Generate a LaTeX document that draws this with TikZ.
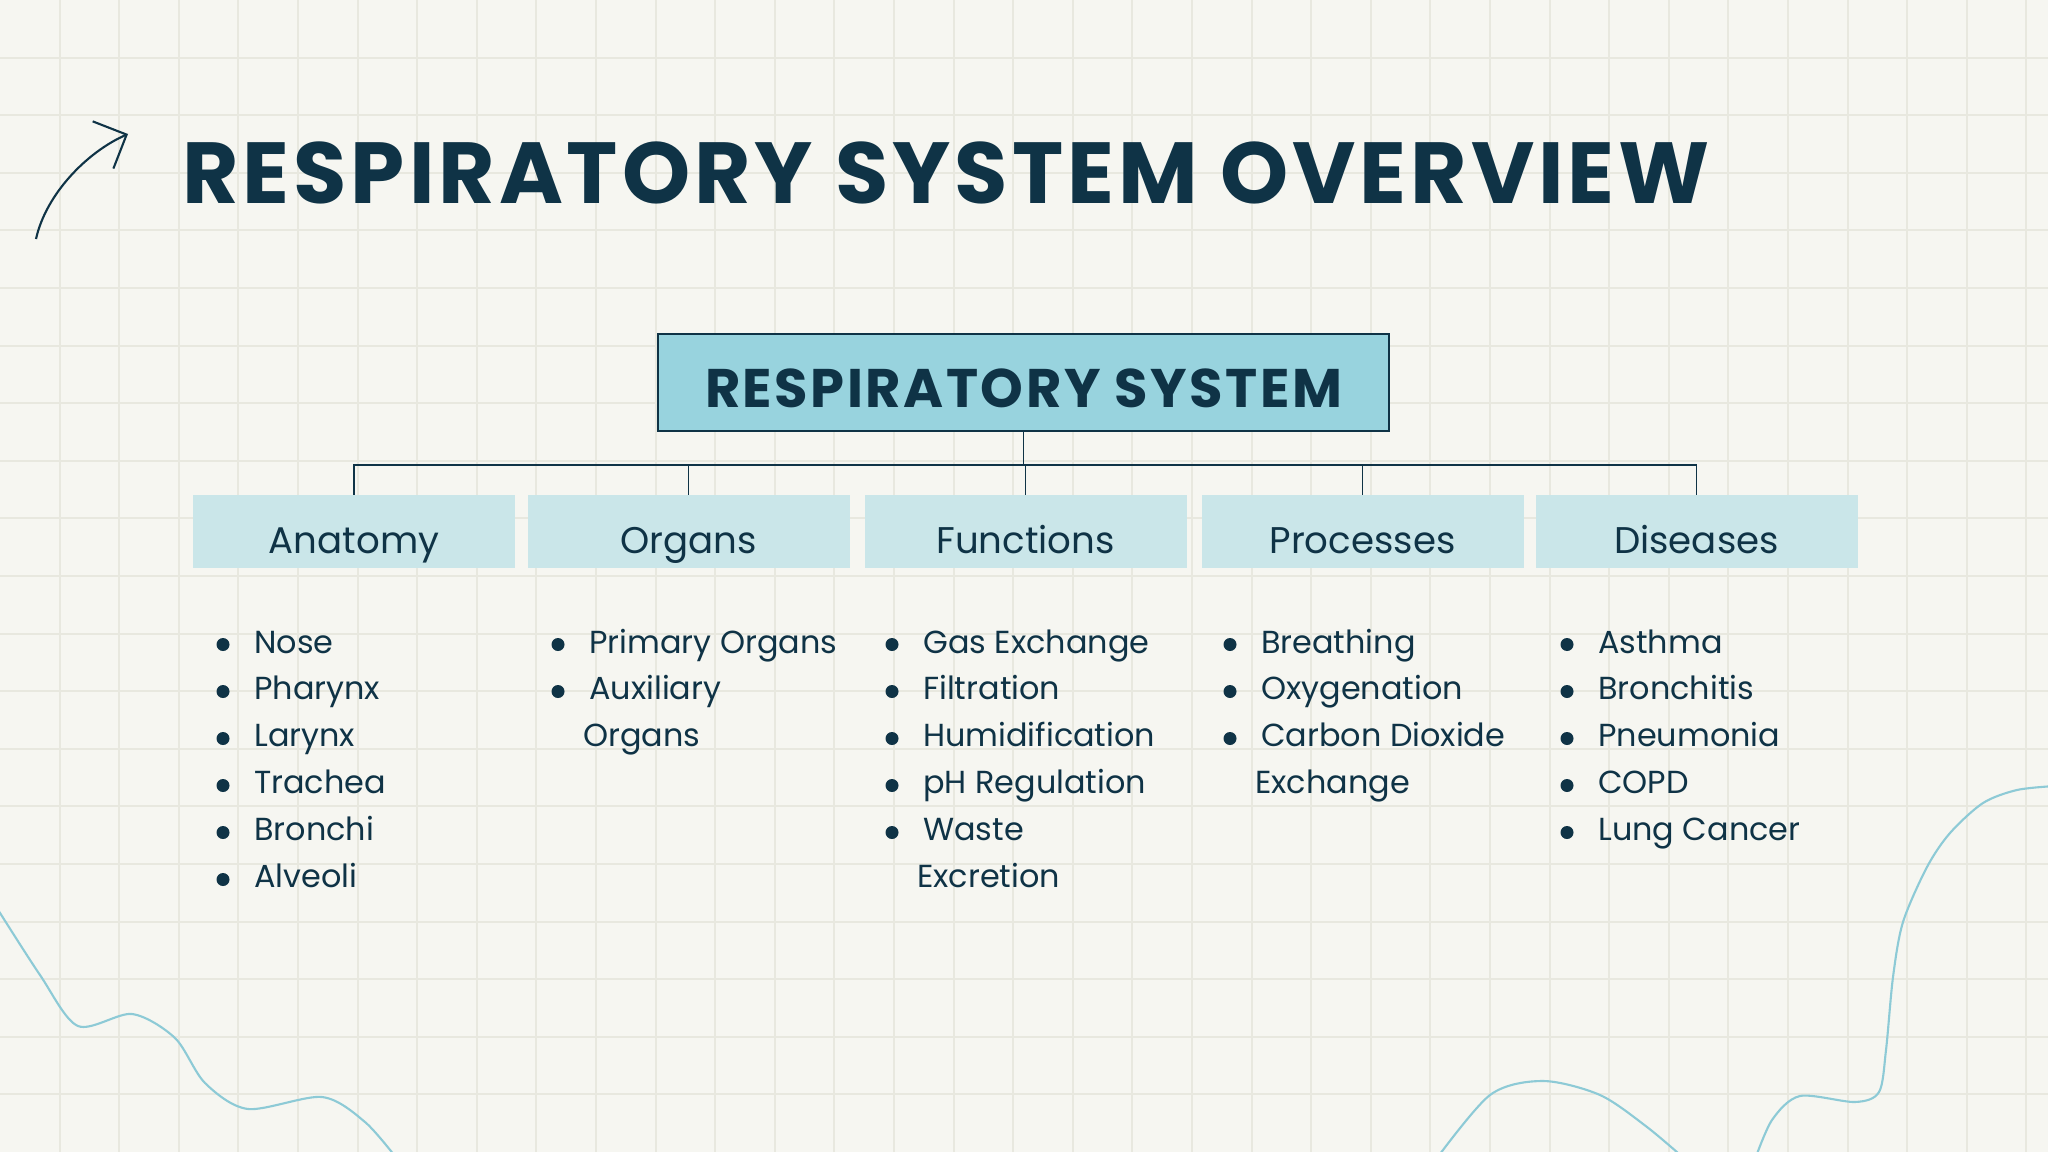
\documentclass[tikz,border=0pt]{standalone}
\usepackage{fontspec}
\setmainfont{Poppins}
\newfontfamily\spacedfont{Poppins}[LetterSpace=4.6]
\usetikzlibrary{arrows.meta,positioning}

\definecolor{ink}{HTML}{0F3346}
\definecolor{paper}{HTML}{F6F6F1}
\definecolor{gridc}{HTML}{E8E8DF}
\definecolor{rootfill}{HTML}{98D3DE}
\definecolor{headfill}{HTML}{CAE6E9}
\definecolor{wavec}{HTML}{8DCAD6}

\newlength\px
\setlength\px{0.03cm}
\newcommand{\bulletlist}[1]{\begin{tabular}[t]{@{}l@{}}#1\end{tabular}}

\begin{document}
\begin{tikzpicture}[x=0.03cm,y=-0.03cm,
  gridline/.style={draw=gridc,line width=1.8pt},
  wave/.style={draw=wavec,line width=1.8pt},
  title/.style={anchor=base west,inner sep=0pt,text=ink,font=\spacedfont\fontsize{74}{80}\selectfont\bfseries},
  rootbox/.style={draw=ink,line width=1.5pt,fill=rootfill,minimum width=731\px,minimum height=97\px,inner sep=0pt,
    text=ink,font=\spacedfont\fontsize{46.4}{50}\selectfont\bfseries,text height=49\px,text depth=0pt},
  head/.style={fill=headfill,minimum width=322\px,minimum height=73\px,inner sep=0pt,
    text=ink,font=\fontsize{31.7}{36}\selectfont,text height=43\px,text depth=0pt},
  items/.style={anchor=base west,inner sep=0pt,text=ink,font=\fontsize{27.2}{40}\selectfont},
  dot/.style={fill=ink},
  conn/.style={draw=ink,line width=1.3pt}
]
\useasboundingbox (0,0) rectangle (2048,1152);
\clip (0,0) rectangle (2048,1152);
\fill[paper] (0,0) rectangle (2048,1152);

% graph paper
\foreach \i in {1,...,34} \draw[gridline] (\i*59.6,0) -- (\i*59.6,1152);
\foreach \j in {1,...,19} \draw[gridline] (0,\j*57.6) -- (2048,\j*57.6);

% waves along the bottom
\draw[wave] plot[smooth] coordinates {(-5,905) (40,975) (78,1026) (132,1014) (175,1038) (205,1083) (248,1109) (322,1097) (365,1122) (398,1160)};
\draw[wave] plot[smooth] coordinates {(1434,1162) (1490,1095) (1543,1081) (1600,1095) (1647,1127) (1686,1160)};
\draw[wave] plot[smooth] coordinates {(1754,1162) (1772,1120) (1800,1096) (1855,1102) (1879,1092) (1886,1050) (1893,977) (1903,922) (1927,867) (1950,833) (1983,803) (2017,790) (2055,786)};

% title with hand-drawn arrow
\draw[ink,line width=1.8pt,-{Straight Barb[length=22pt,width=44pt]}] (36,239) .. controls (46,194) and (87,152) .. (128,134);
\node[title] (title) at (182,203) {RESPIRATORY SYSTEM OVERVIEW};

% root and categories
\node[rootbox] (root) at (1023.5,382.5) {RESPIRATORY SYSTEM};

\node[head] (anat) at (354,531.5)    {Anatomy};
\node[head] (orgs) at (688.5,531.5)  {Organs};
\node[head] (func) at (1025.5,531.5) {Functions};
\node[head] (proc) at (1362.5,531.5) {Processes};
\node[head] (dis)  at (1696.5,531.5) {Diseases};

\draw[conn] (root.south) -- ++(0,33) coordinate (bus);
\foreach \h in {anat,orgs,func,proc,dis}
  \draw[conn] (\h.north) |- (bus);

% bullet lists
\node[items] (anatlist) at (254,653) {\bulletlist{Nose\\ Pharynx\\ Larynx\\ Trachea\\ Bronchi\\ Alveoli}};
\node[items] (orgslist) at (589,653) {\bulletlist{Primary Organs\\ Auxiliary\\ \hspace{-6\px}Organs}};
\node[items] (funclist) at (923,653) {\bulletlist{Gas Exchange\\ Filtration\\ Humidification\\ pH Regulation\\ Waste\\ \hspace{-6\px}Excretion}};
\node[items] (proclist) at (1261,653) {\bulletlist{Breathing\\ Oxygenation\\ Carbon Dioxide\\ \hspace{-6\px}Exchange}};
\node[items] (dislist) at (1598,653) {\bulletlist{Asthma\\ Bronchitis\\ Pneumonia\\ COPD\\ Lung Cancer}};

\foreach \k in {0,...,5} \fill[dot] (223,644.5+47*\k) circle (6.5\px);
\foreach \k in {0,1} \fill[dot] (558,644.5+47*\k) circle (6.5\px);
\foreach \k in {0,...,4} \fill[dot] (892,644.5+47*\k) circle (6.5\px);
\foreach \k in {0,...,2} \fill[dot] (1230,644.5+47*\k) circle (6.5\px);
\foreach \k in {0,...,4} \fill[dot] (1567,644.5+47*\k) circle (6.5\px);
\end{tikzpicture}
\end{document}
